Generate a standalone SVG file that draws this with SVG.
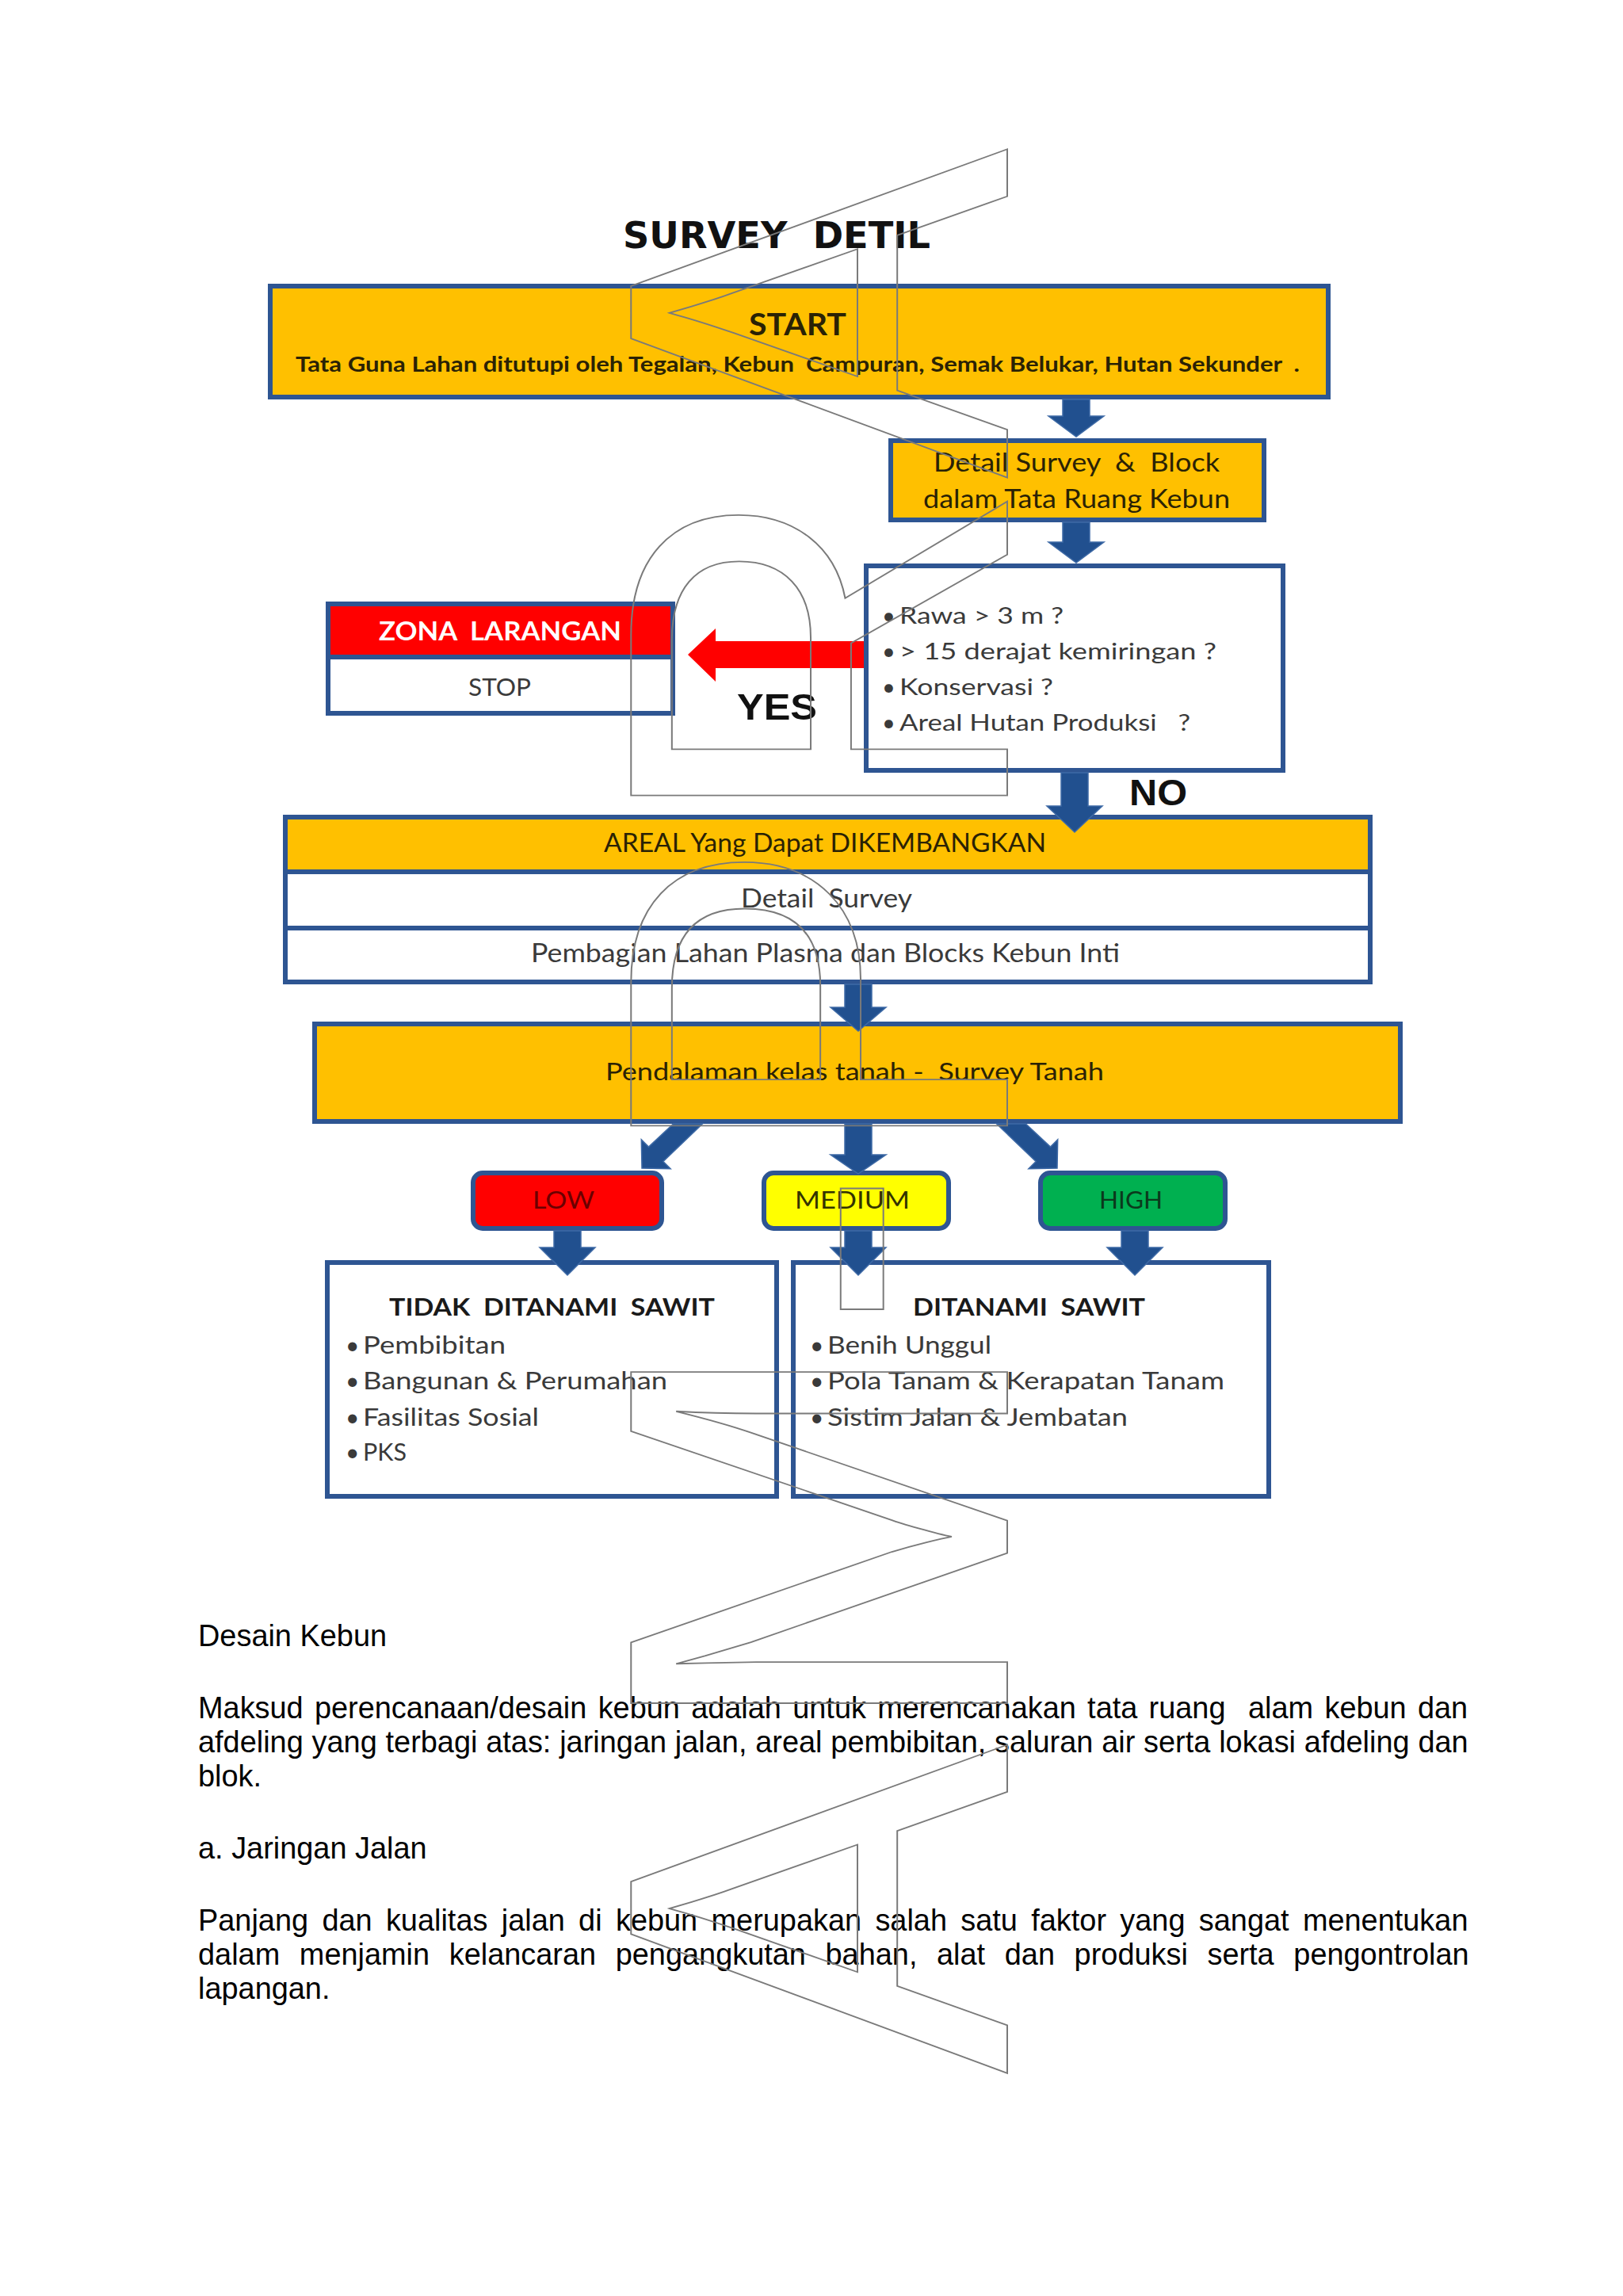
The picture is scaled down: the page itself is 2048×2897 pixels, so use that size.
<svg xmlns="http://www.w3.org/2000/svg" width="2048" height="2897" viewBox="0 0 2048 2897">
<style>
text{white-space:pre}
.box{stroke:#2E5592;stroke-width:6}
.yel{fill:#FFC000}
.wht{fill:#FFFFFF}
.arr{fill:#21508F;stroke:#3E6AA6;stroke-width:1.5}
.cal{font-family:Lato,"Open Sans","Liberation Sans",sans-serif}
.dk{fill:#2a2205}
.gr{fill:#3a3a3a}
.b{font-weight:bold}
.body{font-family:"Liberation Sans",Arial,sans-serif;font-size:37.9px;fill:#000}
</style>
<rect width="2048" height="2897" fill="#FFFFFF"/>

<g id="title">
<text xml:space="preserve" x="786" y="313" font-family="DejaVu Sans" font-weight="bold" font-size="47" fill="#111" textLength="388" lengthAdjust="spacingAndGlyphs">SURVEY  DETIL</text>
</g>

<g id="start">
<rect class="box yel" x="341" y="361" width="1335" height="140"/>
<text class="cal b dk" x="945" y="423" font-size="39" textLength="123" lengthAdjust="spacingAndGlyphs">START</text>
<text xml:space="preserve" class="cal b dk" x="373" y="469" font-size="27" textLength="1267" lengthAdjust="spacingAndGlyphs">Tata Guna Lahan ditutupi oleh Tegalan, Kebun  Campuran, Semak Belukar, Hutan Sekunder  .</text>
</g>

<g id="detail-block">
<rect class="box yel" x="1124" y="556" width="471" height="100"/>
<text xml:space="preserve" class="cal dk" x="1178" y="595" font-size="33" textLength="361" lengthAdjust="spacingAndGlyphs">Detail Survey  &amp;  Block</text>
<text class="cal dk" x="1165" y="641" font-size="33" textLength="387" lengthAdjust="spacingAndGlyphs">dalam Tata Ruang Kebun</text>
</g>

<g id="questions">
<rect class="box wht" x="1093" y="714" width="526" height="258"/>
<g class="cal gr" font-size="29">
<text x="1113" y="787">•</text>
<text x="1135" y="787" textLength="207" lengthAdjust="spacingAndGlyphs">Rawa &gt; 3 m ?</text>
<text x="1113" y="832">•</text>
<text x="1135" y="832" textLength="400" lengthAdjust="spacingAndGlyphs">&gt; 15 derajat kemiringan ?</text>
<text x="1113" y="877">•</text>
<text x="1135" y="877" textLength="194" lengthAdjust="spacingAndGlyphs">Konservasi ?</text>
<text x="1113" y="922">•</text>
<text xml:space="preserve" x="1135" y="922" textLength="367" lengthAdjust="spacingAndGlyphs">Areal Hutan Produksi   ?</text>
</g>
</g>

<g id="zona-larangan">
<rect class="wht" x="414" y="762" width="435" height="138"/>
<rect x="414" y="762" width="435" height="67" fill="#FF0000"/>
<line x1="414" y1="829" x2="849" y2="829" stroke="#2E5592" stroke-width="6"/>
<rect class="box" fill="none" x="414" y="762" width="435" height="138"/>
<text xml:space="preserve" class="cal b" x="478" y="808" font-size="33" fill="#FFFFFF" textLength="306" lengthAdjust="spacingAndGlyphs">ZONA  LARANGAN</text>
<text class="cal gr" x="591" y="878" font-size="31" textLength="79" lengthAdjust="spacingAndGlyphs">STOP</text>
</g>

<g id="areal">
<rect class="wht" x="360" y="1031" width="1369" height="208"/>
<rect class="yel" x="360" y="1031" width="1369" height="69"/>
<line x1="360" y1="1100" x2="1729" y2="1100" stroke="#2E5592" stroke-width="6"/>
<line x1="360" y1="1171" x2="1729" y2="1171" stroke="#2E5592" stroke-width="6"/>
<rect class="box" fill="none" x="360" y="1031" width="1369" height="208"/>
<text class="cal dk" x="762" y="1075" font-size="33" textLength="558" lengthAdjust="spacingAndGlyphs">AREAL Yang Dapat DIKEMBANGKAN</text>
<text xml:space="preserve" class="cal gr" x="935" y="1145" font-size="33" textLength="216" lengthAdjust="spacingAndGlyphs">Detail  Survey</text>
<text class="cal gr" x="670" y="1214" font-size="33" textLength="743" lengthAdjust="spacingAndGlyphs">Pembagian Lahan Plasma dan Blocks Kebun Inti</text>
</g>

<g id="pendalaman">
<rect class="box yel" x="397" y="1292" width="1370" height="123"/>
<text xml:space="preserve" class="cal dk" x="764" y="1363" font-size="30" textLength="629" lengthAdjust="spacingAndGlyphs">Pendalaman kelas tanah -  Survey Tanah</text>
</g>

<g id="low">
<rect class="box" fill="#FF0000" x="597" y="1480" width="238" height="70" rx="12"/>
<text class="cal" x="672" y="1525" font-size="30" fill="#6b0000" textLength="78" lengthAdjust="spacingAndGlyphs">LOW</text>
</g>
<g id="medium">
<rect class="box" fill="#FFFF00" x="964" y="1480" width="233" height="70" rx="12"/>
<text class="cal" x="1003" y="1525" font-size="30" fill="#333300" textLength="145" lengthAdjust="spacingAndGlyphs">MEDIUM</text>
</g>
<g id="high">
<rect class="box" fill="#00B050" x="1313" y="1480" width="233" height="70" rx="12"/>
<text class="cal" x="1387" y="1525" font-size="30" fill="#0b3a1c" textLength="80" lengthAdjust="spacingAndGlyphs">HIGH</text>
</g>

<g id="tidak-ditanami">
<rect class="box wht" x="413" y="1593" width="567" height="295"/>
<text xml:space="preserve" class="cal b" x="491" y="1660" font-size="30" fill="#1a1a1a" textLength="411" lengthAdjust="spacingAndGlyphs">TIDAK  DITANAMI  SAWIT</text>
<g class="cal gr" font-size="30">
<text x="436" y="1708">•</text>
<text x="458" y="1708" textLength="180" lengthAdjust="spacingAndGlyphs">Pembibitan</text>
<text x="436" y="1753">•</text>
<text x="458" y="1753" textLength="384" lengthAdjust="spacingAndGlyphs">Bangunan &amp; Perumahan</text>
<text x="436" y="1799">•</text>
<text x="458" y="1799" textLength="222" lengthAdjust="spacingAndGlyphs">Fasilitas Sosial</text>
<text x="436" y="1843">•</text>
<text x="458" y="1843" textLength="55" lengthAdjust="spacingAndGlyphs">PKS</text>
</g>
</g>

<g id="ditanami">
<rect class="box wht" x="1001" y="1593" width="600" height="295"/>
<text xml:space="preserve" class="cal b" x="1152" y="1660" font-size="30" fill="#1a1a1a" textLength="293" lengthAdjust="spacingAndGlyphs">DITANAMI  SAWIT</text>
<g class="cal gr" font-size="30">
<text x="1022" y="1708">•</text>
<text x="1044" y="1708" textLength="207" lengthAdjust="spacingAndGlyphs">Benih Unggul</text>
<text x="1022" y="1753">•</text>
<text x="1044" y="1753" textLength="501" lengthAdjust="spacingAndGlyphs">Pola Tanam &amp; Kerapatan Tanam</text>
<text x="1022" y="1799">•</text>
<text x="1044" y="1799" textLength="379" lengthAdjust="spacingAndGlyphs">Sistim Jalan &amp; Jembatan</text>
</g>
</g>

<g id="connectors">
<polygon class="arr" points="1341,504 1375,504 1375,525 1393,525 1358,551 1323,525 1341,525"/>
<polygon class="arr" points="1341,659 1375,659 1375,684 1393,684 1358,710 1323,684 1341,684"/>
<polygon class="arr" points="1339,975 1373,975 1373,1017 1391,1017 1356,1050 1321,1017 1339,1017"/>
<polygon class="arr" points="1066,1242 1100,1242 1100,1271 1118,1271 1083,1301 1048,1271 1066,1271"/>
<polygon class="arr" points="1066,1418 1100,1418 1100,1457 1118,1457 1083,1481 1048,1457 1066,1457"/>
<polygon class="arr" points="849.6,1418 886.4,1418 836.9,1465.5 846.1,1474.7 810,1474 809.3,1437.9 818.5,1447.1"/>
<polygon class="arr" points="1294.4,1418 1257.6,1418 1307.1,1465.5 1297.9,1474.7 1334,1474 1334.7,1437.9 1325.5,1447.1"/>
<polygon class="arr" points="699,1553 733,1553 733,1574 751,1574 716,1609 681,1574 699,1574"/>
<polygon class="arr" points="1066,1553 1100,1553 1100,1574 1118,1574 1083,1609 1048,1574 1066,1574"/>
<polygon class="arr" points="1415,1553 1449,1553 1449,1574 1467,1574 1432,1609 1397,1574 1415,1574"/>
<polygon points="1090,809 903,809 903,793 868,826 903,860 903,843 1090,843" fill="#FF0000"/>
<text x="930" y="908" font-family="Liberation Sans" font-weight="bold" font-size="47" fill="#111" textLength="101" lengthAdjust="spacingAndGlyphs">YES</text>
<text x="1425" y="1016" font-family="Liberation Sans" font-weight="bold" font-size="46" fill="#111" textLength="73" lengthAdjust="spacingAndGlyphs">NO</text>
</g>

<g id="body-text" class="body">
<text x="250" y="2077">Desain Kebun</text>
<text xml:space="preserve" x="250" y="2168" word-spacing="3.75">Maksud perencanaan/desain kebun adalah untuk merencanakan tata ruang  alam kebun dan</text>
<text x="250" y="2211" word-spacing="0.3">afdeling yang terbagi atas: jaringan jalan, areal pembibitan, saluran air serta lokasi afdeling dan</text>
<text x="250" y="2254">blok.</text>
<text x="250" y="2345">a. Jaringan Jalan</text>
<text x="250" y="2436" word-spacing="6.8">Panjang dan kualitas jalan di kebun merupakan salah satu faktor yang sangat menentukan</text>
<text x="250" y="2479" word-spacing="14.1">dalam menjamin kelancaran pengangkutan bahan, alat dan produksi serta pengontrolan</text>
<text x="250" y="2522">lapangan.</text>
</g>

<g id="watermark">
<text transform="translate(1271 2617) rotate(-90)" x="0" y="0" font-family="Liberation Sans" font-size="690" fill="none" stroke="#7a7a7a" stroke-width="2" textLength="2430" lengthAdjust="spacingAndGlyphs">AM-PRA</text>
</g>
</svg>
